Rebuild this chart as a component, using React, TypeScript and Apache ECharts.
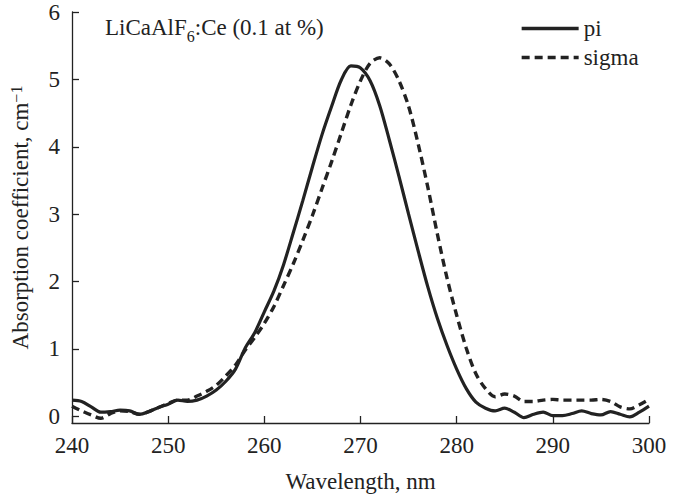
import React, { useEffect, useRef } from "react";
import * as echarts from "echarts";

const wavelengths = [
  240, 241, 242, 243, 244, 245, 246, 247, 248, 249,
  250, 251, 252, 253, 254, 255, 256, 257, 258, 259,
  260, 261, 262, 263, 264, 265, 266, 267, 268, 269,
  270, 271, 272, 273, 274, 275, 276, 277, 278, 279,
  280, 281, 282, 283, 284, 285, 286, 287, 288, 289,
  290, 291, 292, 293, 294, 295, 296, 297, 298, 299, 300,
];

const piValues = [
  0.24, 0.22, 0.14, 0.06, 0.07, 0.09, 0.08, 0.03, 0.07, 0.13,
  0.18, 0.24, 0.22, 0.24, 0.30, 0.39, 0.52, 0.70, 1.01, 1.24,
  1.55, 1.86, 2.25, 2.72, 3.20, 3.70, 4.18, 4.60, 4.99, 5.20,
  5.17, 4.98, 4.61, 4.10, 3.56, 3.00, 2.45, 1.92, 1.45, 1.05,
  0.70, 0.41, 0.21, 0.12, 0.08, 0.12, 0.06, -0.02, 0.03, 0.06,
  0.01, 0.01, 0.04, 0.08, 0.04, 0.02, 0.07, 0.03, -0.01, 0.06, 0.15,
];

const sigmaValues = [
  0.15, 0.08, 0.02, -0.03, 0.04, 0.08, 0.07, 0.03, 0.07, 0.13,
  0.19, 0.24, 0.24, 0.30, 0.37, 0.46, 0.60, 0.76, 0.98, 1.17,
  1.38, 1.63, 1.94, 2.26, 2.61, 2.98, 3.38, 3.78, 4.20, 4.62,
  4.98, 5.24, 5.32, 5.23, 4.98, 4.60, 4.04, 3.40, 2.70, 2.05,
  1.50, 1.01, 0.63, 0.41, 0.29, 0.33, 0.30, 0.22, 0.22, 0.24,
  0.25, 0.24, 0.24, 0.24, 0.24, 0.25, 0.22, 0.14, 0.11, 0.17, 0.25,
];

const yTickValues = [0, 1, 2, 3, 4, 5, 6];
const seriesNames = ["pi", "sigma"];

const FONT = "Liberation Serif";
const INK = "#222222";

export default function App() {
  const ref = useRef<HTMLDivElement>(null);

  useEffect(() => {
    if (!ref.current) return;
    const chart = echarts.init(ref.current, undefined, { renderer: "svg" });
    const pair = (ys: number[]) => wavelengths.map((x, i) => [x, ys[i]]);

    chart.setOption({
      animation: false,
      textStyle: { fontFamily: FONT },
      grid: { left: 72, right: 36, top: 12, bottom: 71 },
      legend: {
        orient: "vertical",
        left: 515,
        top: 12,
        itemWidth: 57,
        itemHeight: 14,
        itemGap: 6,
        data: seriesNames,
        itemStyle: { opacity: 0 },
        lineStyle: { width: 3.3 },
        textStyle: { fontFamily: FONT, fontSize: 23, color: INK },
      },
      xAxis: {
        type: "value",
        min: 240,
        max: 300,
        interval: 10,
        name: "Wavelength, nm",
        nameLocation: "middle",
        nameGap: 47,
        nameTextStyle: { fontFamily: FONT, fontSize: 23, color: INK },
        axisLine: { onZero: false, lineStyle: { color: INK, width: 1.3 } },
        axisTick: { inside: true, length: 7, lineStyle: { color: INK, width: 1.3 } },
        axisLabel: { margin: 11, fontFamily: FONT, fontSize: 23, color: INK },
        splitLine: { show: false },
      },
      yAxis: {
        type: "value",
        min: -0.1,
        max: 6,
        name: "{a|Absorption coefficient, cm}{b|−1}",
        nameLocation: "middle",
        nameGap: 40,
        nameTextStyle: {
          fontFamily: FONT,
          fontSize: 23,
          color: INK,
          rich: {
            a: { fontFamily: FONT, fontSize: 23, color: INK, verticalAlign: "bottom" },
            b: { fontFamily: FONT, fontSize: 16, color: INK, verticalAlign: "top", padding: [0, 0, 8, 0] },
          },
        },
        axisLine: { show: true, lineStyle: { color: INK, width: 1.3 } },
        axisTick: {
          show: true,
          inside: true,
          length: 7,
          customValues: yTickValues,
          lineStyle: { color: INK, width: 1.3 },
        },
        axisLabel: {
          margin: 12,
          customValues: yTickValues,
          fontFamily: FONT,
          fontSize: 23,
          color: INK,
        },
        splitLine: { show: false },
      },
      graphic: [
        {
          type: "text",
          left: 105,
          top: 16,
          style: {
            text: "{m|LiCaAlF}{s|6}{m|:Ce (0.1 at %)}",
            rich: {
              m: { fontFamily: FONT, fontSize: 23, fill: INK, verticalAlign: "bottom" },
              s: { fontFamily: FONT, fontSize: 16, fill: INK, verticalAlign: "bottom", padding: [0, 0, -5, 0] },
            },
          },
        },
      ],
      series: [
        {
          name: seriesNames[0],
          type: "line",
          data: pair(piValues),
          smooth: 0.3,
          symbol: "none",
          lineStyle: { color: INK, width: 3.2, type: "solid" },
          itemStyle: { color: INK },
        },
        {
          name: seriesNames[1],
          type: "line",
          data: pair(sigmaValues),
          smooth: 0.3,
          symbol: "none",
          lineStyle: { color: INK, width: 3.4, type: [8, 5] },
          itemStyle: { color: INK },
        },
      ],
    });

    return () => chart.dispose();
  }, []);

  return (
    <div
      ref={ref}
      style={{ position: "fixed", left: 0, top: 0, width: 685, height: 498, background: "#ffffff" }}
    />
  );
}
